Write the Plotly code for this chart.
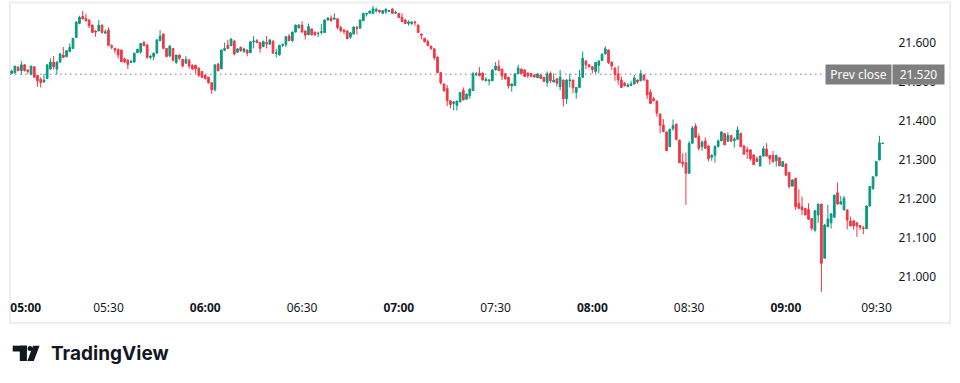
import pandas as pd
import plotly.graph_objects as go

# ---------------- data (1-minute candles, 05:00 .. 09:30) ----------------
start_time = "2024-05-20 05:00"

opens = [
    21.522, 21.523, 21.538, 21.529, 21.544, 21.531, 21.519, 21.539, 21.517, 21.507,
    21.500, 21.509, 21.533, 21.551, 21.533, 21.551, 21.569, 21.565, 21.578, 21.586,
    21.614, 21.650, 21.668, 21.663, 21.659, 21.646, 21.631, 21.631, 21.646, 21.625,
    21.633, 21.593, 21.586, 21.584, 21.582, 21.559, 21.556, 21.550, 21.551, 21.575,
    21.577, 21.601, 21.595, 21.563, 21.565, 21.574, 21.606, 21.623, 21.586, 21.567,
    21.586, 21.550, 21.569, 21.558, 21.548, 21.556, 21.543, 21.543, 21.535, 21.527,
    21.517, 21.512, 21.498, 21.480, 21.546, 21.534, 21.581, 21.594, 21.593, 21.605,
    21.576, 21.589, 21.578, 21.582, 21.575, 21.603, 21.606, 21.601, 21.591, 21.601,
    21.597, 21.605, 21.573, 21.570, 21.594, 21.596, 21.618, 21.606, 21.628, 21.639,
    21.646, 21.631, 21.621, 21.636, 21.628, 21.624, 21.627, 21.627, 21.659, 21.664,
    21.661, 21.662, 21.640, 21.633, 21.631, 21.615, 21.623, 21.640, 21.638, 21.657,
    21.674, 21.676, 21.676, 21.682, 21.684, 21.676, 21.680, 21.681, 21.687, 21.676,
    21.676, 21.666, 21.659, 21.650, 21.650, 21.654, 21.646, 21.623, 21.612, 21.604,
    21.592, 21.585, 21.564, 21.524, 21.495, 21.483, 21.452, 21.445, 21.440, 21.449,
    21.479, 21.456, 21.465, 21.478, 21.519, 21.523, 21.523, 21.503, 21.503, 21.503,
    21.531, 21.541, 21.533, 21.521, 21.512, 21.490, 21.491, 21.521, 21.533, 21.531,
    21.523, 21.522, 21.518, 21.511, 21.518, 21.512, 21.498, 21.522, 21.500, 21.508,
    21.488, 21.505, 21.457, 21.503, 21.505, 21.473, 21.486, 21.512, 21.554, 21.544,
    21.539, 21.527, 21.543, 21.555, 21.572, 21.582, 21.551, 21.536, 21.521, 21.505,
    21.497, 21.488, 21.491, 21.495, 21.505, 21.503, 21.518, 21.505, 21.474, 21.457,
    21.451, 21.418, 21.390, 21.372, 21.334, 21.380, 21.392, 21.351, 21.295, 21.293,
    21.266, 21.343, 21.387, 21.360, 21.334, 21.349, 21.336, 21.307, 21.312, 21.334,
    21.349, 21.368, 21.348, 21.363, 21.350, 21.353, 21.368, 21.336, 21.326, 21.326,
    21.313, 21.303, 21.285, 21.310, 21.328, 21.312, 21.312, 21.298, 21.306, 21.283,
    21.290, 21.268, 21.233, 21.253, 21.189, 21.180, 21.176, 21.173, 21.150, 21.120,
    21.159, 21.187, 21.048, 21.129, 21.139, 21.153, 21.216, 21.187, 21.172, 21.172,
    21.144, 21.144, 21.139, 21.132, 21.126, 21.124, 21.182, 21.227, 21.259, 21.300,
    21.342,
]

highs = [
    21.531, 21.541, 21.540, 21.554, 21.546, 21.531, 21.541, 21.540, 21.518, 21.512,
    21.521, 21.545, 21.561, 21.567, 21.553, 21.575, 21.590, 21.582, 21.599, 21.613,
    21.655, 21.670, 21.682, 21.675, 21.660, 21.647, 21.632, 21.659, 21.647, 21.635,
    21.640, 21.597, 21.588, 21.585, 21.583, 21.563, 21.558, 21.558, 21.575, 21.585,
    21.600, 21.606, 21.596, 21.569, 21.575, 21.609, 21.633, 21.624, 21.587, 21.595,
    21.587, 21.570, 21.570, 21.559, 21.567, 21.560, 21.545, 21.544, 21.538, 21.528,
    21.520, 21.513, 21.499, 21.545, 21.549, 21.583, 21.601, 21.608, 21.613, 21.607,
    21.587, 21.591, 21.588, 21.583, 21.604, 21.618, 21.610, 21.602, 21.606, 21.618,
    21.609, 21.606, 21.585, 21.595, 21.599, 21.617, 21.623, 21.629, 21.647, 21.648,
    21.656, 21.632, 21.650, 21.637, 21.629, 21.629, 21.649, 21.660, 21.666, 21.671,
    21.676, 21.663, 21.644, 21.636, 21.632, 21.627, 21.642, 21.644, 21.660, 21.677,
    21.677, 21.683, 21.695, 21.691, 21.685, 21.684, 21.688, 21.685, 21.689, 21.683,
    21.677, 21.676, 21.662, 21.658, 21.655, 21.657, 21.647, 21.624, 21.613, 21.609,
    21.593, 21.586, 21.565, 21.525, 21.496, 21.492, 21.453, 21.451, 21.452, 21.474,
    21.486, 21.470, 21.483, 21.526, 21.526, 21.538, 21.524, 21.512, 21.506, 21.532,
    21.551, 21.556, 21.534, 21.522, 21.513, 21.496, 21.522, 21.544, 21.535, 21.532,
    21.524, 21.523, 21.519, 21.522, 21.519, 21.513, 21.527, 21.527, 21.522, 21.509,
    21.531, 21.506, 21.508, 21.521, 21.506, 21.487, 21.531, 21.578, 21.555, 21.545,
    21.540, 21.551, 21.555, 21.574, 21.592, 21.583, 21.552, 21.537, 21.541, 21.514,
    21.500, 21.497, 21.503, 21.518, 21.506, 21.531, 21.519, 21.506, 21.481, 21.462,
    21.452, 21.419, 21.405, 21.373, 21.380, 21.404, 21.393, 21.352, 21.317, 21.319,
    21.348, 21.387, 21.394, 21.368, 21.350, 21.358, 21.337, 21.315, 21.338, 21.353,
    21.374, 21.369, 21.371, 21.364, 21.358, 21.386, 21.370, 21.338, 21.334, 21.327,
    21.314, 21.309, 21.311, 21.336, 21.343, 21.313, 21.323, 21.313, 21.307, 21.297,
    21.291, 21.269, 21.250, 21.254, 21.225, 21.206, 21.177, 21.189, 21.151, 21.171,
    21.188, 21.188, 21.136, 21.185, 21.163, 21.211, 21.242, 21.208, 21.208, 21.173,
    21.155, 21.145, 21.140, 21.133, 21.131, 21.183, 21.233, 21.258, 21.297, 21.362,
    21.344,
]

lows = [
    21.521, 21.523, 21.528, 21.519, 21.527, 21.521, 21.519, 21.512, 21.488, 21.486,
    21.498, 21.508, 21.532, 21.532, 21.519, 21.550, 21.561, 21.563, 21.576, 21.585,
    21.613, 21.648, 21.660, 21.655, 21.638, 21.626, 21.616, 21.630, 21.624, 21.624,
    21.593, 21.584, 21.573, 21.560, 21.551, 21.548, 21.533, 21.549, 21.550, 21.574,
    21.572, 21.592, 21.560, 21.558, 21.556, 21.573, 21.605, 21.585, 21.564, 21.564,
    21.552, 21.546, 21.556, 21.537, 21.547, 21.534, 21.530, 21.522, 21.513, 21.510,
    21.506, 21.496, 21.469, 21.476, 21.527, 21.533, 21.580, 21.584, 21.592, 21.568,
    21.575, 21.578, 21.575, 21.566, 21.574, 21.586, 21.600, 21.575, 21.589, 21.586,
    21.595, 21.573, 21.563, 21.567, 21.589, 21.590, 21.605, 21.603, 21.627, 21.637,
    21.626, 21.609, 21.620, 21.619, 21.618, 21.615, 21.622, 21.626, 21.657, 21.655,
    21.660, 21.635, 21.627, 21.622, 21.610, 21.611, 21.622, 21.622, 21.637, 21.656,
    21.668, 21.675, 21.675, 21.678, 21.676, 21.675, 21.674, 21.680, 21.675, 21.675,
    21.664, 21.654, 21.649, 21.645, 21.646, 21.644, 21.626, 21.609, 21.602, 21.592,
    21.582, 21.556, 21.523, 21.493, 21.474, 21.438, 21.432, 21.427, 21.427, 21.448,
    21.453, 21.455, 21.457, 21.477, 21.515, 21.515, 21.504, 21.502, 21.491, 21.502,
    21.530, 21.528, 21.505, 21.506, 21.483, 21.475, 21.490, 21.520, 21.521, 21.513,
    21.510, 21.512, 21.510, 21.510, 21.508, 21.500, 21.488, 21.497, 21.499, 21.488,
    21.479, 21.437, 21.444, 21.486, 21.471, 21.457, 21.485, 21.510, 21.533, 21.537,
    21.522, 21.522, 21.522, 21.554, 21.571, 21.546, 21.531, 21.503, 21.493, 21.485,
    21.488, 21.487, 21.490, 21.494, 21.495, 21.502, 21.504, 21.456, 21.444, 21.451,
    21.411, 21.368, 21.372, 21.323, 21.333, 21.375, 21.350, 21.292, 21.281, 21.185,
    21.265, 21.342, 21.357, 21.324, 21.324, 21.329, 21.296, 21.298, 21.293, 21.333,
    21.348, 21.338, 21.347, 21.347, 21.332, 21.352, 21.333, 21.314, 21.303, 21.298,
    21.287, 21.295, 21.283, 21.309, 21.309, 21.288, 21.294, 21.283, 21.284, 21.282,
    21.260, 21.227, 21.232, 21.172, 21.175, 21.159, 21.158, 21.147, 21.119, 21.116,
    21.139, 20.962, 21.047, 21.128, 21.124, 21.152, 21.186, 21.186, 21.171, 21.122,
    21.130, 21.121, 21.103, 21.121, 21.110, 21.123, 21.181, 21.223, 21.258, 21.299,
    21.341,
]

closes = [
    21.528, 21.541, 21.529, 21.544, 21.529, 21.527, 21.541, 21.512, 21.503, 21.498,
    21.505, 21.544, 21.551, 21.539, 21.551, 21.572, 21.563, 21.580, 21.589, 21.612,
    21.654, 21.666, 21.662, 21.657, 21.644, 21.627, 21.628, 21.646, 21.627, 21.629,
    21.594, 21.589, 21.582, 21.569, 21.552, 21.552, 21.545, 21.552, 21.574, 21.584,
    21.599, 21.593, 21.563, 21.566, 21.574, 21.608, 21.618, 21.586, 21.565, 21.592,
    21.556, 21.569, 21.561, 21.541, 21.558, 21.541, 21.534, 21.534, 21.517, 21.512,
    21.509, 21.498, 21.480, 21.544, 21.529, 21.582, 21.586, 21.586, 21.610, 21.572,
    21.585, 21.580, 21.585, 21.574, 21.603, 21.605, 21.601, 21.586, 21.604, 21.598,
    21.608, 21.574, 21.575, 21.594, 21.596, 21.616, 21.606, 21.628, 21.646, 21.646,
    21.628, 21.620, 21.642, 21.621, 21.621, 21.625, 21.629, 21.659, 21.664, 21.657,
    21.664, 21.640, 21.632, 21.629, 21.611, 21.626, 21.641, 21.637, 21.659, 21.676,
    21.676, 21.682, 21.687, 21.686, 21.680, 21.683, 21.687, 21.683, 21.676, 21.678,
    21.665, 21.655, 21.650, 21.654, 21.654, 21.652, 21.627, 21.620, 21.603, 21.593,
    21.586, 21.562, 21.524, 21.498, 21.478, 21.452, 21.442, 21.449, 21.451, 21.473,
    21.454, 21.469, 21.482, 21.521, 21.521, 21.516, 21.505, 21.507, 21.505, 21.531,
    21.541, 21.529, 21.516, 21.508, 21.490, 21.495, 21.521, 21.536, 21.522, 21.514,
    21.516, 21.515, 21.513, 21.521, 21.509, 21.501, 21.521, 21.503, 21.505, 21.497,
    21.512, 21.457, 21.505, 21.505, 21.485, 21.486, 21.512, 21.561, 21.544, 21.539,
    21.532, 21.550, 21.554, 21.571, 21.585, 21.550, 21.541, 21.519, 21.505, 21.486,
    21.491, 21.492, 21.495, 21.510, 21.500, 21.522, 21.505, 21.467, 21.445, 21.452,
    21.420, 21.389, 21.373, 21.324, 21.379, 21.388, 21.353, 21.293, 21.290, 21.266,
    21.343, 21.382, 21.358, 21.330, 21.346, 21.330, 21.303, 21.312, 21.334, 21.349,
    21.372, 21.339, 21.363, 21.348, 21.354, 21.377, 21.334, 21.315, 21.322, 21.303,
    21.288, 21.296, 21.310, 21.329, 21.310, 21.303, 21.295, 21.312, 21.285, 21.296,
    21.261, 21.232, 21.249, 21.180, 21.176, 21.172, 21.159, 21.148, 21.125, 21.170,
    21.187, 21.035, 21.133, 21.149, 21.162, 21.210, 21.187, 21.193, 21.202, 21.146,
    21.131, 21.131, 21.131, 21.127, 21.124, 21.182, 21.232, 21.257, 21.296, 21.344,
    21.343,
]

prev_close = 21.520
price_ticks = [21.0, 21.1, 21.2, 21.3, 21.4, 21.5, 21.6]
time_ticks = ["05:00", "05:30", "06:00", "06:30", "07:00", "07:30",
              "08:00", "08:30", "09:00", "09:30"]

# ---------------- figure ----------------
W, H = 960, 383
ML, MR, MT, MB = 10, 10, 2, 60
GREEN, RED = "#089981", "#F23645"
TXT = "#131722"
FONT = "Noto Sans"

times = pd.date_range(start_time, periods=len(closes), freq="min")
day = start_time.split(" ")[0]


def px(x):
    return (x - ML) / (W - ML - MR)


def py(y):
    return (H - MB - y) / (H - MT - MB)


fig = go.Figure(
    go.Candlestick(
        x=times, open=opens, high=highs, low=lows, close=closes,
        increasing=dict(line=dict(color=GREEN, width=1), fillcolor=GREEN),
        decreasing=dict(line=dict(color=RED, width=1), fillcolor=RED),
        whiskerwidth=0, hoverinfo="skip", showlegend=False,
    )
)

t0 = pd.Timestamp(start_time)
x_lo = t0 - pd.Timedelta(minutes=0.527)
x_hi = t0 + pd.Timedelta(minutes=290.86)

tickvals = [pd.Timestamp(f"{day} {t}") for t in time_ticks]
ticktext = []
for t in time_ticks:
    lab = f"<b>{t}</b>" if t.endswith(":00") else t
    if t == time_ticks[0]:
        lab = "\u00a0" * 9 + lab
    elif t == time_ticks[-1]:
        lab = lab + "\u00a0" * 4
    ticktext.append(lab)

fig.update_layout(
    width=W, height=H,
    margin=dict(l=ML, r=MR, t=MT, b=MB, pad=0, autoexpand=False),
    paper_bgcolor="white", plot_bgcolor="white",
    font=dict(family=FONT, size=12, color=TXT),
    boxgap=0.25,
    xaxis=dict(
        range=[x_lo, x_hi], domain=[0, 1], automargin=False,
        showgrid=False, zeroline=False, showline=False, ticks="",
        tickvals=tickvals, ticktext=ticktext, ticklabeloverflow="allow",
        tickfont=dict(family=FONT, size=12, color=TXT),
        rangeslider=dict(visible=False), fixedrange=True,
    ),
    yaxis=dict(
        range=[20.9436, 21.7051], domain=[py(299), 1], side="right", automargin=False,
        showgrid=False, zeroline=False, showline=False, ticks="",
        tickvals=price_ticks, ticktext=[f"{v:.3f}" for v in price_ticks],
        ticklabelposition="inside", ticklabelstandoff=11,
        tickfont=dict(family=FONT, size=12, color=TXT),
        fixedrange=True,
    ),
)

shapes = [
    # chart frame
    dict(type="rect", xref="paper", yref="paper", x0=0, x1=1, y0=0, y1=py(2.5),
         line=dict(color="#EEEEEE", width=2), fillcolor="rgba(0,0,0,0)", layer="below"),
    # previous close dotted line
    dict(type="line", xref="paper", yref="y", x0=0, x1=px(825), y0=prev_close, y1=prev_close,
         line=dict(color="#787B86", width=1, dash="1.5px,3.5px"), layer="below"),
    # logo
    dict(type="rect", xref="paper", yref="paper", x0=px(12.7), x1=px(26.9), y0=py(351.5), y1=py(345.7),
         fillcolor=TXT, line=dict(width=0)),
    dict(type="rect", xref="paper", yref="paper", x0=px(19.8), x1=px(26.9), y0=py(361), y1=py(345.7),
         fillcolor=TXT, line=dict(width=0)),
    dict(type="circle", xref="paper", yref="paper", x0=px(27.6), x1=px(32.6), y0=py(351.0), y1=py(346.0),
         fillcolor=TXT, line=dict(width=0)),
    dict(type="path", xref="paper", yref="paper",
         path=(f"M {px(33.0)} {py(345.7)} L {px(39.5)} {py(345.7)} "
               f"L {px(33.8)} {py(361)} L {px(27.4)} {py(361)} Z"),
         fillcolor=TXT, line=dict(width=0)),
]

annotations = [
    dict(text="Prev close", xref="paper", yref="y", x=px(825), y=prev_close,
         xanchor="left", yanchor="middle", showarrow=False, width=63, height=17,
         bgcolor="#7E7E7E", borderpad=1, font=dict(family=FONT, size=12, color="white")),
    dict(text=f"{prev_close:.3f}", xref="paper", yref="y", x=px(892.3), y=prev_close,
         xanchor="left", yanchor="middle", showarrow=False, width=49, height=17,
         bgcolor="#7E7E7E", borderpad=1, font=dict(family=FONT, size=12, color="white")),
    dict(text="TradingView", xref="paper", yref="paper", x=px(49), y=py(353.5),
         xanchor="left", yanchor="middle", showarrow=False,
         font=dict(family="Inter", size=19, color=TXT, weight=700)),
]

fig.update_layout(shapes=shapes, annotations=annotations)
fig.write_html("out.html")
